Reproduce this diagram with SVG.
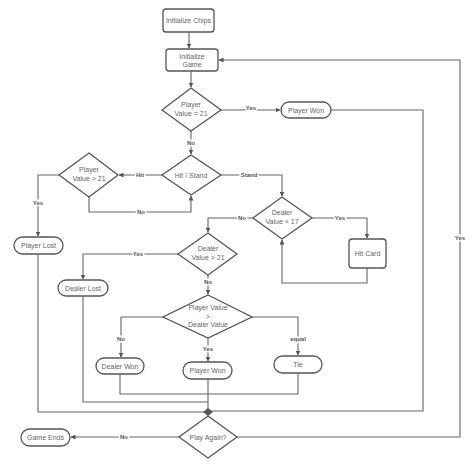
<svg xmlns="http://www.w3.org/2000/svg" width="474" height="464" viewBox="0 0 474 464">
<style>
.n{fill:#fff;stroke:#555;stroke-width:1.3}
.t{font-family:"Liberation Sans",Arial,sans-serif;font-size:7px;fill:#666;text-anchor:middle}
.c{fill:none;stroke:#666;stroke-width:1.1;stroke-linejoin:round}
.l{font-family:"Liberation Sans",Arial,sans-serif;font-size:6px;font-weight:bold;fill:#555;text-anchor:middle;stroke:#fff;stroke-width:3px;paint-order:stroke}
</style>
<defs>
<marker id="a" viewBox="0 0 10 10" refX="9" refY="5" markerWidth="5" markerHeight="5" orient="auto" markerUnits="userSpaceOnUse">
<path d="M0,0 L10,5 L0,10 z" fill="#555"/>
</marker>
</defs>
<rect width="474" height="464" fill="#fff"/>
<g id="connectors">
<path class="c" d="M189,32 V48" marker-end="url(#a)"/>
<path class="c" d="M191,71 V87" marker-end="url(#a)"/>
<path class="c" d="M221,110 H280" marker-end="url(#a)"/>
<path class="c" d="M191,131 V154" marker-end="url(#a)"/>
<path class="c" d="M162,175 H119" marker-end="url(#a)"/>
<path class="c" d="M89,197 V212 H191 V196" marker-end="url(#a)"/>
<path class="c" d="M59,175 H38 V236" marker-end="url(#a)"/>
<path class="c" d="M221,175 H282 V196" marker-end="url(#a)"/>
<path class="c" d="M312,218 H367 V238" marker-end="url(#a)"/>
<path class="c" d="M367,268 V283 H282 V240" marker-end="url(#a)"/>
<path class="c" d="M253,218 H208 V232" marker-end="url(#a)"/>
<path class="c" d="M178,254 H83 V279" marker-end="url(#a)"/>
<path class="c" d="M208,275 V294" marker-end="url(#a)"/>
<path class="c" d="M163,317 H121 V357" marker-end="url(#a)"/>
<path class="c" d="M208,338 V361" marker-end="url(#a)"/>
<path class="c" d="M252,317 H298 V355" marker-end="url(#a)"/>
<path class="c" d="M331,110 H423 V411 H208"/>
<path class="c" d="M38,254 V412 H208"/>
<path class="c" d="M83,296 V402 H208"/>
<path class="c" d="M120,374 V394 H298 V373"/>
<path class="c" d="M208,379 V415" marker-end="url(#a)"/>
<path d="M208,408 L213,412 L208,416 L203,412 z" fill="#555"/>
<path class="c" d="M237,437 H460 V60 H219" marker-end="url(#a)"/>
<path class="c" d="M179,437 H71" marker-end="url(#a)"/>
<text class="l" x="251" y="110">Yes</text>
<text class="l" x="191" y="145">No</text>
<text class="l" x="140" y="177">Hit</text>
<text class="l" x="141" y="214">No</text>
<text class="l" x="38" y="205">Yes</text>
<text class="l" x="249" y="177">Stand</text>
<text class="l" x="340" y="220">Yes</text>
<text class="l" x="242" y="220">No</text>
<text class="l" x="138" y="256">Yes</text>
<text class="l" x="208" y="284">No</text>
<text class="l" x="121" y="341">No</text>
<text class="l" x="208" y="351">Yes</text>
<text class="l" x="298" y="341">equal</text>
<text class="l" x="460" y="240">Yes</text>
<text class="l" x="124" y="439">No</text>
</g>
<g id="init-chips"><rect class="n" x="163" y="9" width="51" height="23" rx="3"/><text class="t" x="188.5" y="23">Initialize Chips</text></g>
<g id="init-game"><rect class="n" x="166" y="49" width="52" height="22" rx="3"/><text class="t" x="192" y="58.5">Initialize</text><text class="t" x="192" y="67">Game</text></g>
<g id="pv21"><polygon class="n" points="191,88 221,110 191,131 162,110"/><text class="t" x="191" y="107">Player</text><text class="t" x="191" y="116">Value = 21</text></g>
<g id="player-won-1"><rect class="n" x="281" y="102" width="50" height="16" rx="8"/><text class="t" x="306" y="112.5">Player Won</text></g>
<g id="hit-stand"><polygon class="n" points="191,155 221,175 191,195 162,175"/><text class="t" x="191" y="177.5">Hit / Stand</text></g>
<g id="pv-gt21"><polygon class="n" points="89,153 118,175 89,197 59,175"/><text class="t" x="89" y="172">Player</text><text class="t" x="89" y="181">Value &gt; 21</text></g>
<g id="player-lost"><rect class="n" x="14" y="237" width="49" height="17" rx="8.5"/><text class="t" x="38.5" y="248">Player Lost</text></g>
<g id="dv-lt17"><polygon class="n" points="282,197 312,218 282,239 253,218"/><text class="t" x="282" y="215">Dealer</text><text class="t" x="282" y="224">Value &lt; 17</text></g>
<g id="hit-card"><rect class="n" x="349" y="239" width="37" height="29" rx="3"/><text class="t" x="367.5" y="256">Hit Card</text></g>
<g id="dv-gt21"><polygon class="n" points="208,233 237,254 208,275 178,254"/><text class="t" x="208" y="251">Dealer</text><text class="t" x="208" y="260">Value &gt; 21</text></g>
<g id="dealer-lost"><rect class="n" x="58" y="280" width="50" height="16" rx="8"/><text class="t" x="83" y="290.5">Dealer Lost</text></g>
<g id="pv-gt-dv"><polygon class="n" points="208,295 252,317 208,338 163,317"/><text class="t" x="208" y="310">Player Value</text><text class="t" x="208" y="319">&gt;</text><text class="t" x="208" y="327">Dealer Value</text></g>
<g id="dealer-won"><rect class="n" x="96" y="358" width="48" height="16" rx="8"/><text class="t" x="120" y="368.5">Dealer Won</text></g>
<g id="player-won-2"><rect class="n" x="183" y="362" width="49" height="17" rx="8.5"/><text class="t" x="207.5" y="373">Player Won</text></g>
<g id="tie"><rect class="n" x="274" y="356" width="48" height="17" rx="8.5"/><text class="t" x="298" y="367">Tie</text></g>
<g id="play-again"><polygon class="n" points="208,416 237,437 208,458 179,437"/><text class="t" x="208" y="439.5">Play Again?</text></g>
<g id="game-ends"><rect class="n" x="21" y="429" width="49" height="17" rx="8.5"/><text class="t" x="45.5" y="440">Game Ends</text></g>
</svg>
